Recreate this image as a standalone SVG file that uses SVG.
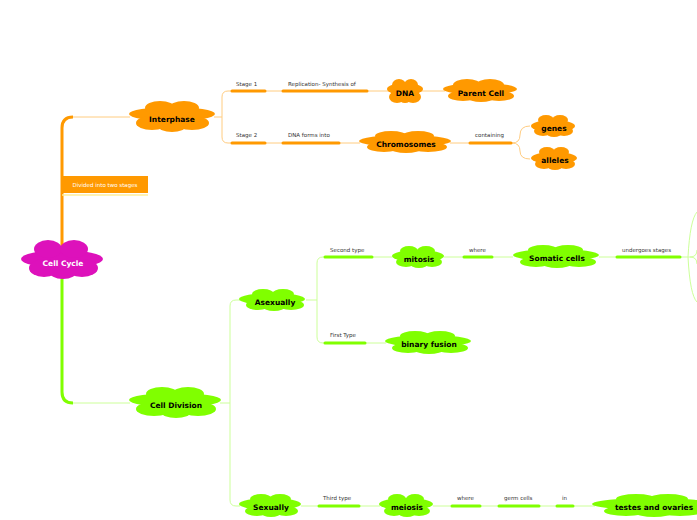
<svg xmlns="http://www.w3.org/2000/svg" width="697" height="520" viewBox="0 0 697 520">
<style>
.o{fill:#ff9900}.g{fill:#80ff00}.m{fill:#dd11bb}
.t{font-family:"DejaVu Sans",sans-serif;font-size:7.5px;font-weight:bold;fill:#000;text-anchor:middle}
.l{font-family:"DejaVu Sans",sans-serif;font-size:5.5px;fill:#333}
.bo{stroke:#ff9900;stroke-width:3;stroke-linecap:round;fill:none}
.bg{stroke:#80ff00;stroke-width:3;stroke-linecap:round;fill:none}
.co{stroke:#ffcc80;stroke-width:1;fill:none}
.cg{stroke:#ccff99;stroke-width:1;fill:none}
</style>
<rect width="697" height="520" fill="#fff"/>
<g id="connectors">
<path d="M62 250 V128 Q62 117 73 117 H130" class="co"/>
<path d="M62 250 V128 Q62 117 73 117" stroke="#ff9900" stroke-width="3" fill="none"/>
<path d="M62 268 V392 Q62 403 73 403 H130" class="cg"/>
<path d="M62 268 V392 Q62 403 73 403" stroke="#80ff00" stroke-width="3" fill="none"/>
<path d="M214 117 H222 M222 117 V97 Q222 91 228 91 H390 M222 117 V137 Q222 143 228 143 H360 M421 91 H445 M450 143 H512 Q520 143 520 135 Q520 126 530 126 M512 143 Q520 143 520 151 Q520 159 530 159" class="co"/>
<path d="M220 403 H230 M230 403 V306 Q230 300 236 300 H242 M230 403 V500 Q230 506 236 506 H240 M306 300 H317 M317 300 V263 Q317 257 323 257 H392 M317 300 V337 Q317 343 323 343 H386 M444 257 H513 M599 257 H690 Q697 257 697 250 M690 257 Q697 257 697 264 M688 257 Q690 220 697 212 M688 257 Q690 295 697 302 M301 506 H380 M433 506 H595" class="cg"/>
<line x1="62" y1="195" x2="148" y2="195" stroke="#ffee99" stroke-width="1.5"/>
<path d="M232 91 H265 M283 91 H367 M232 143 H265 M283 143 H339 M470 143 H511" class="bo"/>
<path d="M325 257 H372 M464 257 H492 M617 257 H680 M325 343 H365 M319 506 H359 M452 506 H480 M499 506 H539 M557 506 H573" class="bg"/>
<text class="l" x="236" y="86">Stage 1</text>
<text class="l" x="288" y="86">Replication- Synthesis of</text>
<text class="l" x="236" y="137">Stage 2</text>
<text class="l" x="288" y="137">DNA forms into</text>
<text class="l" x="475" y="137">containing</text>
<text class="l" x="330" y="252">Second type</text>
<text class="l" x="469" y="252">where</text>
<text class="l" x="622" y="252">undergoes stages</text>
<text class="l" x="330" y="337">First Type</text>
<text class="l" x="323" y="500">Third type</text>
<text class="l" x="457" y="500">where</text>
<text class="l" x="504" y="500">germ cells</text>
<text class="l" x="562" y="500">in</text>
</g>
<g id="label-divided">
<rect x="62" y="176" width="86" height="17" class="o"/>
<text x="105" y="187" font-family="DejaVu Sans,sans-serif" font-size="5.5" fill="#fff" text-anchor="middle">Divided into two stages</text>
</g>
<g id="cell-cycle" class="m">
<ellipse cx="62" cy="259" rx="41" ry="9"/><ellipse cx="48" cy="249" rx="14" ry="9"/><ellipse cx="74" cy="249" rx="14" ry="9"/><ellipse cx="44" cy="268" rx="15" ry="9"/><ellipse cx="82" cy="268" rx="16" ry="9"/><ellipse cx="63" cy="271" rx="14" ry="8"/>
<text class="t" x="63" y="266" style="fill:#fff">Cell Cycle</text>
</g>
<g id="interphase" class="o">
<ellipse cx="172" cy="114" rx="43" ry="7"/><ellipse cx="160" cy="108" rx="15" ry="7"/><ellipse cx="184" cy="108" rx="15" ry="7"/><ellipse cx="152" cy="123" rx="16" ry="7"/><ellipse cx="192" cy="123" rx="17" ry="7"/><ellipse cx="172" cy="126" rx="14" ry="6"/>
<text class="t" x="172" y="122">Interphase</text>
</g>
<g id="cell-division" class="g">
<ellipse cx="175" cy="400" rx="46" ry="7"/><ellipse cx="162" cy="394" rx="16" ry="7"/><ellipse cx="188" cy="394" rx="16" ry="7"/><ellipse cx="154" cy="409" rx="18" ry="7"/><ellipse cx="198" cy="409" rx="18" ry="7"/><ellipse cx="176" cy="412" rx="15" ry="6"/>
<text class="t" x="176" y="408">Cell Division</text>
</g>
<g id="dna" class="o">
<ellipse cx="405" cy="89" rx="18" ry="6"/><ellipse cx="399" cy="85" rx="7" ry="6"/><ellipse cx="411" cy="85" rx="7" ry="6"/><ellipse cx="397" cy="97" rx="8" ry="6"/><ellipse cx="413" cy="97" rx="8" ry="6"/><ellipse cx="405" cy="99" rx="6" ry="4"/>
<text class="t" x="405" y="96">DNA</text>
</g>
<g id="parent-cell" class="o">
<ellipse cx="480" cy="89" rx="37" ry="6"/><ellipse cx="467" cy="85" rx="14" ry="6"/><ellipse cx="490" cy="85" rx="14" ry="6"/><ellipse cx="463" cy="96" rx="15" ry="5"/><ellipse cx="499" cy="96" rx="15" ry="5"/><ellipse cx="481" cy="98" rx="13" ry="4"/>
<text class="t" x="481" y="96">Parent Cell</text>
</g>
<g id="chromosomes" class="o">
<ellipse cx="405" cy="141" rx="46" ry="6"/><ellipse cx="391" cy="136" rx="16" ry="5"/><ellipse cx="418" cy="136" rx="16" ry="5"/><ellipse cx="384" cy="147" rx="17" ry="5"/><ellipse cx="428" cy="147" rx="19" ry="5"/><ellipse cx="406" cy="149" rx="15" ry="4"/>
<text class="t" x="406" y="147">Chromosomes</text>
</g>
<g id="genes" class="o">
<ellipse cx="553" cy="126" rx="22" ry="6"/><ellipse cx="546" cy="120" rx="8" ry="5"/><ellipse cx="560" cy="120" rx="8" ry="5"/><ellipse cx="543" cy="131" rx="9" ry="5"/><ellipse cx="564" cy="131" rx="9" ry="5"/><ellipse cx="554" cy="133" rx="8" ry="4"/>
<text class="t" x="554" y="131">genes</text>
</g>
<g id="alleles" class="o">
<ellipse cx="554" cy="158" rx="23" ry="6"/><ellipse cx="547" cy="152" rx="8" ry="5"/><ellipse cx="561" cy="152" rx="8" ry="5"/><ellipse cx="544" cy="164" rx="9" ry="5"/><ellipse cx="566" cy="164" rx="9" ry="5"/><ellipse cx="555" cy="166" rx="8" ry="4"/>
<text class="t" x="555" y="163">alleles</text>
</g>
<g id="asexually" class="g">
<ellipse cx="272" cy="299" rx="33" ry="6"/><ellipse cx="263" cy="294" rx="11" ry="5"/><ellipse cx="283" cy="294" rx="11" ry="5"/><ellipse cx="258" cy="305" rx="12" ry="5"/><ellipse cx="291" cy="305" rx="13" ry="5"/><ellipse cx="274" cy="307" rx="11" ry="4"/>
<text class="t" x="275" y="305">Asexually</text>
</g>
<g id="mitosis" class="g">
<ellipse cx="418" cy="256" rx="26" ry="6"/><ellipse cx="409" cy="251" rx="9" ry="5"/><ellipse cx="426" cy="251" rx="9" ry="5"/><ellipse cx="406" cy="262" rx="10" ry="5"/><ellipse cx="432" cy="262" rx="10" ry="5"/><ellipse cx="419" cy="264" rx="9" ry="4"/>
<text class="t" x="419" y="262">mitosis</text>
</g>
<g id="somatic-cells" class="g">
<ellipse cx="556" cy="255" rx="43" ry="6"/><ellipse cx="543" cy="250" rx="15" ry="5"/><ellipse cx="568" cy="250" rx="15" ry="5"/><ellipse cx="536" cy="262" rx="16" ry="5"/><ellipse cx="579" cy="262" rx="17" ry="5"/><ellipse cx="557" cy="264" rx="14" ry="4"/>
<text class="t" x="557" y="261">Somatic cells</text>
</g>
<g id="binary-fusion" class="g">
<ellipse cx="428" cy="341" rx="43" ry="6"/><ellipse cx="415" cy="336" rx="15" ry="5"/><ellipse cx="440" cy="336" rx="15" ry="5"/><ellipse cx="408" cy="348" rx="16" ry="5"/><ellipse cx="451" cy="348" rx="17" ry="5"/><ellipse cx="429" cy="350" rx="14" ry="4"/>
<text class="t" x="429" y="347">binary fusion</text>
</g>
<g id="sexually" class="g">
<ellipse cx="270" cy="504" rx="31" ry="6"/><ellipse cx="261" cy="499" rx="11" ry="5"/><ellipse cx="280" cy="499" rx="11" ry="5"/><ellipse cx="257" cy="511" rx="12" ry="5"/><ellipse cx="286" cy="511" rx="12" ry="5"/><ellipse cx="271" cy="513" rx="10" ry="4"/>
<text class="t" x="271" y="510">Sexually</text>
</g>
<g id="meiosis" class="g">
<ellipse cx="406" cy="504" rx="27" ry="6"/><ellipse cx="397" cy="499" rx="9" ry="5"/><ellipse cx="415" cy="499" rx="9" ry="5"/><ellipse cx="394" cy="511" rx="10" ry="5"/><ellipse cx="419" cy="511" rx="11" ry="5"/><ellipse cx="407" cy="513" rx="9" ry="4"/>
<text class="t" x="407" y="510">meiosis</text>
</g>
<g id="testes-and-ovaries" class="g">
<ellipse cx="652" cy="504" rx="60" ry="6"/><ellipse cx="636" cy="499" rx="20" ry="5"/><ellipse cx="668" cy="499" rx="20" ry="5"/><ellipse cx="626" cy="511" rx="22" ry="5"/><ellipse cx="680" cy="511" rx="24" ry="5"/><ellipse cx="654" cy="513" rx="18" ry="4"/>
<text class="t" x="654" y="510">testes and ovaries</text>
</g>
</svg>
